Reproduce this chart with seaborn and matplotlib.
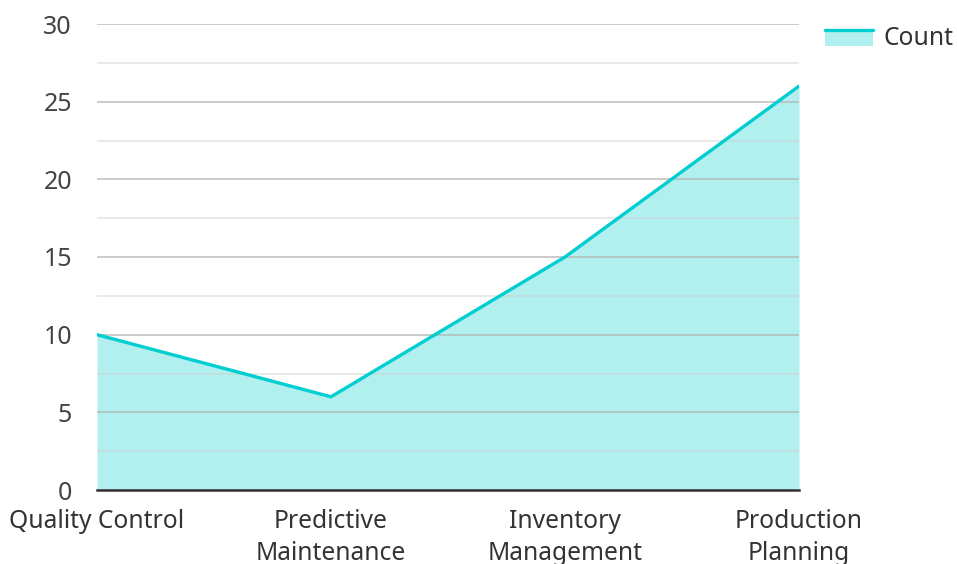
import matplotlib
matplotlib.use("Agg")
import matplotlib.pyplot as plt
import seaborn as sns
import pandas as pd
from matplotlib.legend_handler import HandlerBase
from matplotlib.patches import Rectangle
from matplotlib.lines import Line2D

categories = ["Quality Control", "Predictive\nMaintenance", "Inventory\nManagement", "Production\nPlanning"]
counts = [10, 6, 15, 26]
series_name = "Count"

LINE = "#00CED1"
FILL = "#B2EFEF"

sns.set_theme(style="white")
plt.rcParams['font.family'] = ['Noto Sans', 'DejaVu Sans']

df = pd.DataFrame({"x": range(len(categories)), "y": counts})

fig = plt.figure(figsize=(9.57, 5.64), dpi=100)
ax = fig.add_axes([97/957, 1-490/564, (799-97)/957, (490-24)/564])

ax.fill_between(df["x"], df["y"], 0, color=FILL, linewidth=0, zorder=1)
sns.lineplot(data=df, x="x", y="y", ax=ax, color=LINE, linewidth=2.4, zorder=3, legend=False)

ax.set_xlim(0, len(categories) - 1)
ax.set_ylim(0, 30)
ax.set_yticks([0, 5, 10, 15, 20, 25, 30])
ax.set_yticks([2.5, 7.5, 12.5, 17.5, 22.5, 27.5], minor=True)
ax.set_xticks(range(len(categories)))
ax.set_xticklabels(categories, linespacing=1.4)
ax.set_xlabel("")
ax.set_ylabel("")

ax.set_axisbelow(False)
ax.grid(True, which="major", axis="y", color="#b4b4b4", linewidth=1.3, alpha=0.75, zorder=2)
ax.grid(True, which="minor", axis="y", color="#cfcfcf", linewidth=1.2, alpha=0.55, zorder=2)
ax.grid(False, axis="x")

for s in ["top", "right", "left"]:
    ax.spines[s].set_visible(False)
ax.spines["bottom"].set_color("#333333")
ax.spines["bottom"].set_linewidth(1.8)
ax.spines["bottom"].set_zorder(4)

ax.tick_params(axis="y", which="both", length=0, pad=18, labelsize=18, labelcolor="#444444")
ax.tick_params(axis="x", which="both", length=0, pad=13.5, labelsize=17.7, labelcolor="#333333")


class AreaHandler(HandlerBase):
    def create_artists(self, legend, orig_handle, xdescent, ydescent, width, height, fontsize, trans):
        r = Rectangle((-xdescent, -ydescent), width, height * 0.85, facecolor=FILL, edgecolor="none", transform=trans)
        l = Line2D([-xdescent, -xdescent + width], [-ydescent + height * 0.85] * 2, color=LINE, linewidth=2.4, transform=trans)
        return [r, l]


handle = Rectangle((0, 0), 1, 1)
leg = fig.legend([handle], [series_name], handler_map={Rectangle: AreaHandler()},
                 loc="upper left", bbox_to_anchor=(818/957, 1 - 19/564), frameon=False,
                 fontsize=17.7, handlelength=1.95, handleheight=0.8, handletextpad=0.4,
                 borderaxespad=0, borderpad=0.3)
for t in leg.get_texts():
    t.set_color("#333333")

fig.savefig("out.png", dpi=100)
